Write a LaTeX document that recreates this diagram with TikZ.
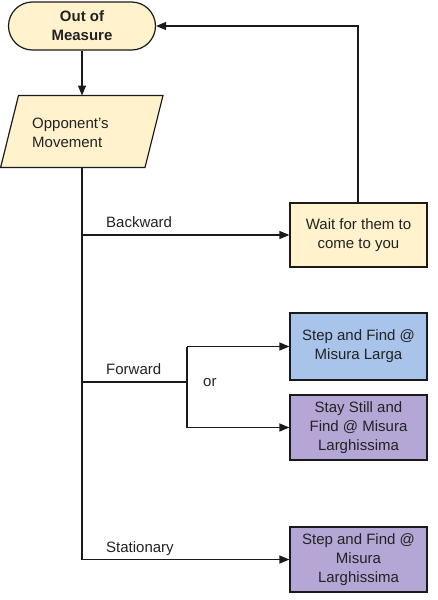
\documentclass[tikz,border=0pt]{standalone}
\usepackage{fontspec}
\setmainfont{Liberation Sans}
\usetikzlibrary{arrows.meta}
\definecolor{cream}{HTML}{FFF2CC}
\definecolor{bluebox}{HTML}{A9C4EB}
\definecolor{purplebox}{HTML}{B4A7D6}
\definecolor{linec}{HTML}{1A1A1A}
\definecolor{textc}{HTML}{222222}
\tikzset{
  x=1pt,y=-1pt,
  every node/.style={font=\fontsize{15}{19}\selectfont, text=textc},
  box/.style={draw=linec, line width=1.2pt, minimum width=137pt, align=center, inner sep=2pt},
  conn/.style={draw=linec, line width=1.2pt},
  arr/.style={conn, -{Triangle[length=10pt,width=8pt]}},
  lbl/.style={anchor=base west, inner sep=0pt}
}
\begin{document}
\begin{tikzpicture}
\useasboundingbox (0,0) rectangle (438,600);
\node[box, fill=cream, rounded corners=24pt, minimum width=147pt, minimum height=48pt, font=\fontsize{15}{19}\selectfont\bfseries] (start) at (82,26) {Out of\\Measure};
\coordinate (opptop) at (82,95.5);
\coordinate (oppbot) at (82,167.5);
\draw[line width=1.2pt, draw=linec, fill=cream, line join=miter] (18.5,95.5) -- (163,95.5) -- (145,167.5) -- (0.6,167.5) -- cycle;
\node[anchor=west, align=left, inner sep=0pt] (opp) at (32,132.5) {Opponent's\\Movement};
\node[box, fill=cream, minimum height=64pt] (wait) at (358.5,235) {Wait for them to\\come to you};
\node[box, fill=bluebox, minimum height=67pt] (larga) at (358.5,346.5) {Step and Find @\\Misura Larga};
\node[box, fill=purplebox, minimum height=65pt] (still) at (358.5,427.5) {Stay Still and\\Find @ Misura\\Larghissima};
\node[box, fill=purplebox, minimum height=65pt] (stat) at (358.5,559.5) {Step and Find @\\Misura\\Larghissima};
\coordinate (trunkend) at (82,559.5);
\coordinate (jb) at (82,235);
\coordinate (jf) at (82,382);
\coordinate (fork) at (187,382);
\coordinate (forktop) at (187,346.5);
\coordinate (forkbot) at (187,427.5);
\coordinate (loopc) at (358,26);
\draw[arr] (start.south) -- (opptop);
\draw[conn] (oppbot) -- (trunkend);
\draw[arr] (jb) -- (jb -| wait.west);
\node[lbl] (lback) at (106,227) {Backward};
\draw[conn] (jf) -- (fork);
\node[lbl] (lfwd) at (106,374) {Forward};
\draw[conn] (forktop) -- (forkbot);
\draw[arr] (forktop) -- (forktop -| larga.west);
\draw[arr] (forkbot) -- (forkbot -| still.west);
\node[lbl] (or) at (203,386) {or};
\draw[arr] (trunkend) -- (trunkend -| stat.west);
\node[lbl] (lstat) at (106,552) {Stationary};
\draw[arr] (wait.north -| loopc) -- (loopc) -- (start.east);
\end{tikzpicture}
\end{document}
